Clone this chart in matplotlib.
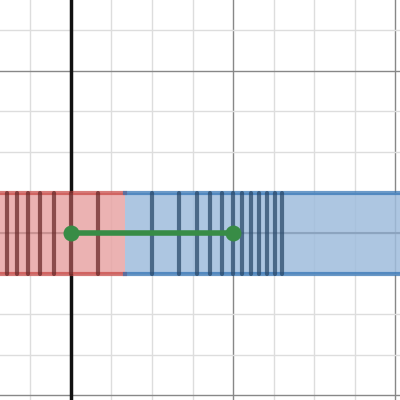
import matplotlib
matplotlib.use("Agg")
import matplotlib.pyplot as plt
import numpy as np

red_lines = [-1.58, -1.33, -1.06, -0.77, -0.42, 0.0, 0.67]
blue_lines = [2.0, 2.67, 3.11, 3.43, 3.73, 4.0, 4.22, 4.44, 4.64, 4.84, 5.04, 5.21]
red_span = [-3, 1.33]
blue_span = [1.33, 10]
band = [-1, 1]
seg_x = [0, 4]
seg_y = [0, 0]

fig = plt.figure(figsize=(4, 4), dpi=100)
ax = fig.add_axes([0, 0, 1, 1])
x0, x1 = -1.75, 8.12
y0, y1 = -4.12, 5.75
ax.set_xlim(x0, x1); ax.set_ylim(y0, y1)
for v in range(-2, 9):
    ax.axvline(v, color='#dddddd' if v % 4 else '#888888', lw=1, zorder=0)
for v in range(-5, 6):
    ax.axhline(v, color='#dddddd' if v % 4 else '#888888', lw=1, zorder=0)
ax.axvline(0, color='#111111', lw=2.5, zorder=1)
ax.axhline(0, color='#222222', lw=1.5, zorder=1)

ax.fill_between(red_span, band[0], band[1], color='#e8a5a5', alpha=0.85, lw=0, zorder=2)
ax.fill_between(blue_span, band[0], band[1], color='#9fbcdc', alpha=0.85, lw=0, zorder=2)
for yy in band:
    ax.plot(red_span, [yy, yy], color='#c74440', lw=3, alpha=0.7, zorder=3)
    ax.plot(blue_span, [yy, yy], color='#2d70b3', lw=3, alpha=0.7, zorder=3)
for xx in red_lines:
    ax.plot([xx, xx], band, color='#6b2a2a', lw=3, alpha=0.75, solid_capstyle='round', zorder=4)
for xx in blue_lines:
    ax.plot([xx, xx], band, color='#2a4a6b', lw=3, alpha=0.75, solid_capstyle='round', zorder=4)
ax.plot(seg_x, seg_y, color='#388c46', lw=4, zorder=5)
ax.scatter(seg_x, seg_y, s=110, color='#388c46', zorder=6)
ax.axis('off')
fig.savefig('out.png', dpi=100)
